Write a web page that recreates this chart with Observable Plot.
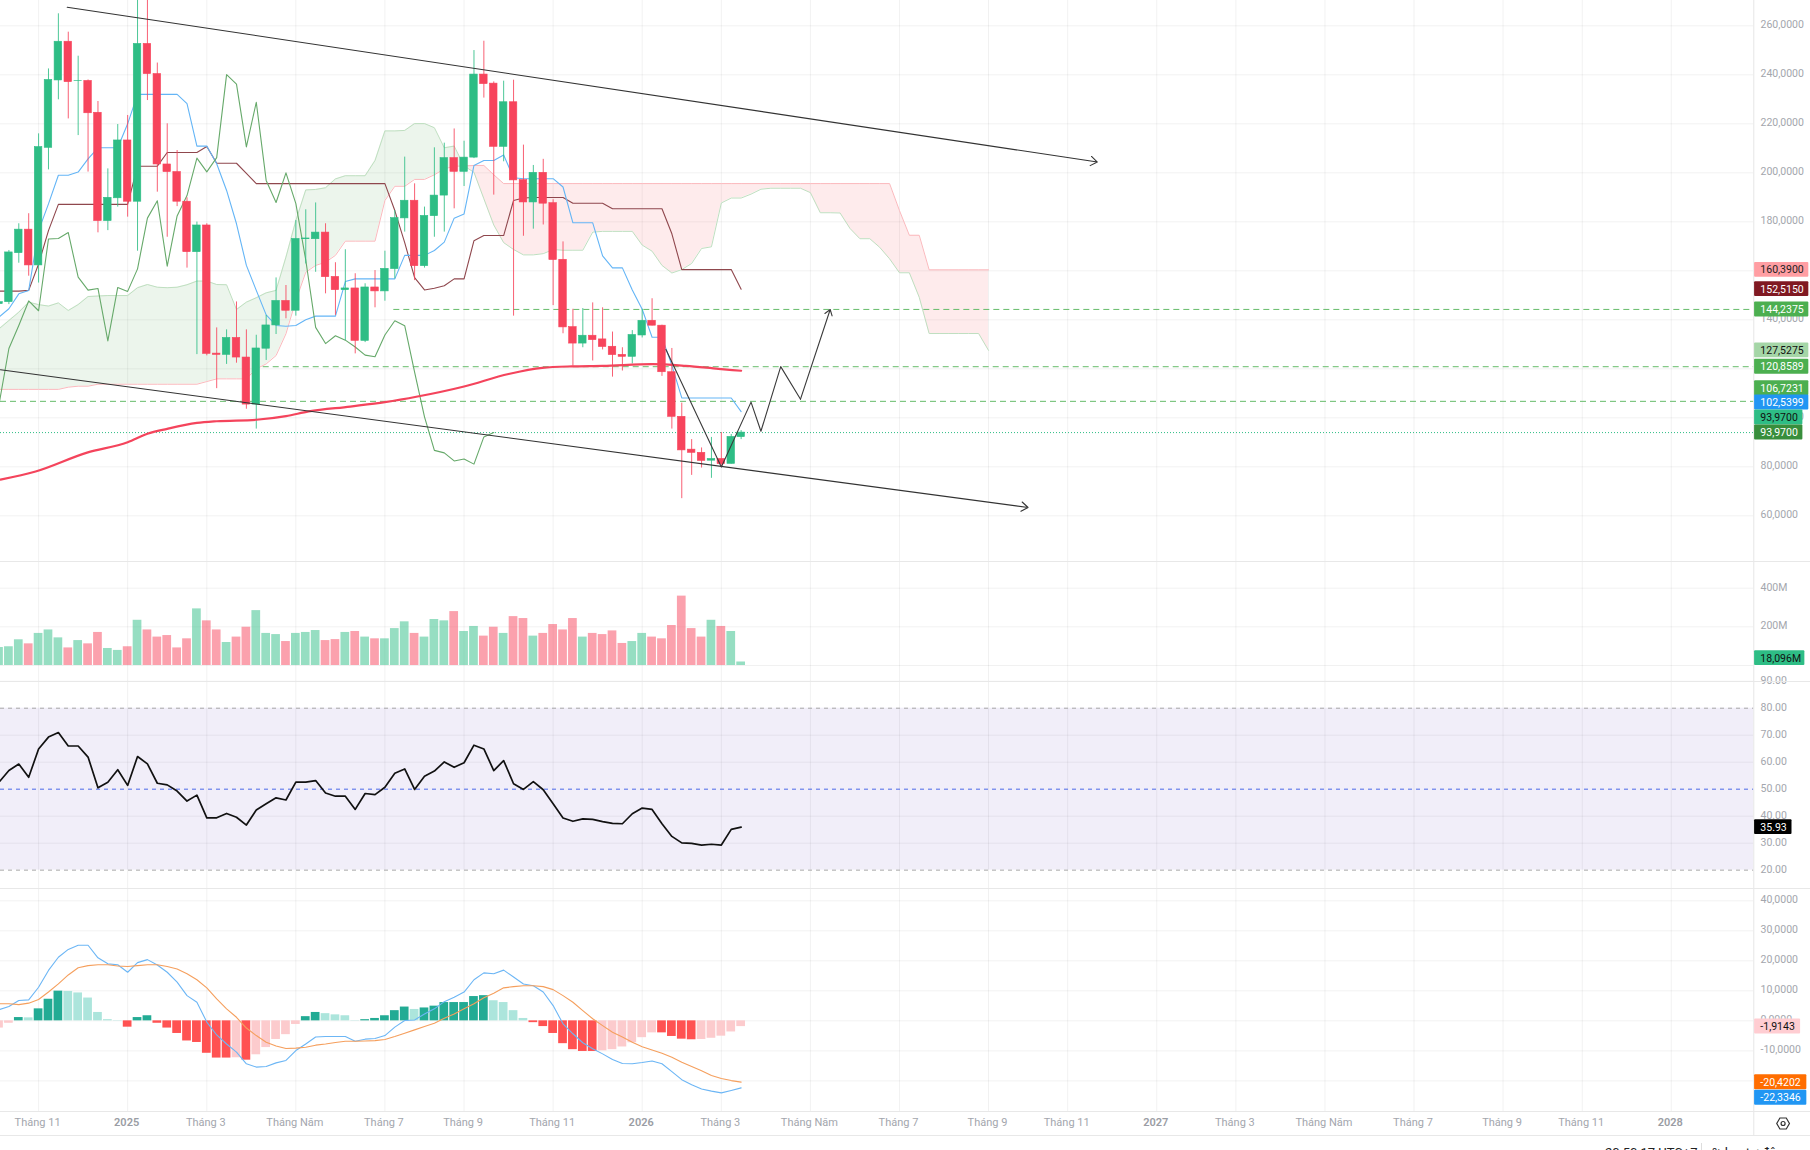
<!DOCTYPE html>
<html lang="vi">
<head>
<meta charset="utf-8">
<script src="https://cdn.jsdelivr.net/npm/d3@7"></script>
<script src="https://cdn.jsdelivr.net/npm/@observablehq/plot@0.6"></script>
<style>
html,body{margin:0;padding:0;background:#fff}
#chart{position:relative;width:1810px;height:1150px;overflow:hidden;background:#fff;font-family:Roboto,sans-serif}
#chart svg{position:absolute;left:0;background:transparent;overflow:visible}
.sep{position:absolute;left:0;width:1810px;height:1px;background:#e8e8e8}
.status{position:absolute;top:1145px;font-size:13px;line-height:16px;color:#222;white-space:nowrap}
.statusbar{position:absolute;left:1701px;top:1143px;width:1px;height:7px;background:#ddd}
</style>
</head>
<body>
<div id="chart"></div>
<script>
// weekly candles, week 0 = 14 Oct 2024 (prices in thousands)
const weeks = [-1,0,1,2,3,4,5,6,7,8,9,10,11,12,13,14,15,16,17,18,19,20,21,22,23,24,25,26,27,28,29,30,31,32,33,34,35,36,37,38,39,40,41,42,43,44,45,46,47,48,49,50,51,52,53,54,55,56,57,58,59,60,61,62,63,64,65,66,67,68,69,70,71,72,73,74];
const opens = [146.4,147.2,167.2,176.8,162.2,210.2,237.7,253.5,237.4,237.5,
224.5,180.3,189.6,213.2,188.2,252.6,240.3,203.4,200.3,188.2,
167.6,178.5,126.2,125.7,132.6,124.6,105.4,128.2,137.7,147.7,
143.7,172.9,172.9,175.6,157.5,152.1,152.8,131.4,153.2,151.6,
160.7,181.4,188.6,161.9,182.3,190.7,206.0,200.4,206.2,240.1,
236.4,210.6,228.8,197.0,187.9,200.0,187.6,164.5,137.0,130.3,
133.5,132.0,129.0,125.7,124.9,133.6,139.6,137.6,118.6,100.4,
87.0,85.7,82.5,83.2,81.2,92.1];
const highs = [150.0,168.3,179.2,183.3,215.9,242.4,264.9,257.4,247.6,237.9,
229.1,201.6,219.7,223.4,285,280,244.8,220.0,209.1,189.8,
179.9,179.2,136.7,135.9,147.3,135.9,133.7,141.8,157.1,154.0,
180.5,184.9,187.7,179.2,163.3,168.6,158.8,154.7,160.1,168.0,
184.6,206.4,195.5,186.0,210.2,212.1,217.9,212.9,249.9,253.7,
237.1,237.4,237.8,211.3,203.0,205.5,189.0,171.8,144.3,144.6,
146.9,144.9,135.0,128.6,135.6,144.3,148.6,137.8,128.3,106.0,
91.1,87.7,92.0,94.0,93.2,94.8];
const lows = [146.0,146.2,163.1,157.8,155.0,201.2,229.8,222.0,215.2,200.3,
175.5,176.4,186.0,181.9,168.0,229.5,192.1,173.7,186.2,161.1,
125.8,125.3,111.9,121.8,122.3,103.5,95.4,123.4,134.0,140.4,
141.5,162.8,159.4,150.6,141.8,131.5,126.1,130.7,144.9,147.6,
156.7,175.8,156.0,161.1,173.7,175.8,185.3,194.4,205.8,230.5,
190.9,204.5,141.5,174.1,177.0,178.7,145.8,134.3,121.1,128.6,
123.2,127.7,116.6,119.1,122.0,132.6,137.5,116.9,95.4,67.0,
76.5,79.5,75.3,79.9,81.1,91.1];
const closes = [147.2,167.5,176.8,162.2,210.5,237.9,253.5,237.0,237.5,224.3,
180.3,189.8,213.2,188.2,252.6,240.3,203.4,200.3,188.2,167.6,
178.5,126.1,125.7,132.6,124.6,105.4,128.3,137.7,147.7,143.7,
173.0,173.2,175.6,157.4,152.1,152.8,131.4,153.2,151.6,160.8,
181.5,188.6,161.9,182.4,190.7,206.0,200.4,206.2,240.1,236.2,
210.6,228.8,196.9,187.9,200.0,187.4,164.4,136.9,130.3,133.5,
131.7,128.9,125.6,124.9,133.8,139.6,137.6,118.6,100.4,86.7,
85.7,82.4,83.2,81.1,92.2,93.97];
const tenkan = [141.1,144.5,150.6,152.0,176.4,187.3,199.0,199.0,200.3,205.7,
210.2,210.2,210.2,220.0,232.0,232.0,232.0,232.0,232.0,228.2,
210.9,210.9,203.7,192.8,179.2,162.2,152.0,142.0,137.7,137.4,
137.7,140.0,141.5,141.5,141.5,155.6,156.7,156.7,156.7,156.7,
156.7,166.3,166.3,166.3,168.3,171.7,181.5,183.2,203.0,205.0,
205.0,207.3,198.0,197.6,197.6,197.6,197.6,194.2,179.6,179.6,
179.6,166.1,161.2,161.2,152.2,144.3,132.9,132.9,121.4,108.1,
108.1,108.1,108.1,108.1,108.1,102.5399];
const kijun = [151.7,151.7,151.7,152.0,162.8,176.4,187.1,187.1,187.1,187.1,
187.1,187.1,187.1,187.1,202.7,202.7,202.7,208.3,208.3,208.3,
208.3,210.7,203.9,203.9,203.9,199.8,195.6,195.6,195.6,195.6,
195.6,195.6,195.6,195.6,195.6,195.6,195.6,195.6,195.6,195.6,
184.6,171.5,157.2,152.2,152.9,153.9,156.7,156.7,172.3,174.4,
174.4,174.4,188.7,189.7,189.9,189.9,189.9,189.9,187.6,187.6,
187.6,187.6,185.3,185.3,185.3,185.3,185.3,185.3,175.1,160.5,
160.5,160.5,160.5,160.5,160.5,152.515];
// leading spans, plotted 25 weeks ahead (weeks -1 to 99)
const spanWeeks = [-1,0,1,2,3,4,5,6,7,8,9,10,11,12,13,14,15,16,17,18,19,20,21,22,23,24,25,26,27,28,29,30,31,32,33,34,35,36,37,38,39,40,41,42,43,44,45,46,47,48,49,50,51,52,53,54,55,56,57,58,59,60,61,62,63,64,65,66,67,68,69,70,71,72,73,74,75,76,77,78,79,80,81,82,83,84,85,86,87,88,89,90,91,92,93,94,95,96,97,98,99];
const spanA = [136.3,139.7,143.1,147.2,146.2,145.6,146.9,143.8,146.2,149.5,
149.7,149.9,149.9,149.9,153.1,154.4,153.3,153.1,153.3,154.3,
155.8,155.8,154.4,154.3,144.2,147.2,149.0,151.0,152.0,165.6,
180.5,193.0,193.2,193.9,197.5,198.8,198.8,198.8,205.0,217.1,
217.1,217.3,220.1,220.1,218.4,210.2,210.9,202.8,200.2,189.4,
178.7,171.5,168.7,166.5,166.5,167.0,168.7,168.4,168.4,168.4,
175.8,176.1,176.1,176.1,176.1,170.5,168.0,162.2,159.1,160.5,
163.0,169.1,169.8,187.7,189.7,189.7,191.3,193.3,193.7,193.7,
193.7,193.7,191.9,183.7,183.7,183.6,177.3,173.1,173.1,169.6,
164.9,159.2,159.2,149.2,134.4,134.4,134.4,134.4,134.4,134.4,
127.5275];
const spanB = [111.6,111.6,111.6,111.6,111.6,111.6,111.6,112.5,112.9,112.9,
113.7,113.7,113.7,113.7,113.7,113.7,113.7,113.7,113.7,113.7,
113.7,114.8,115.9,115.9,115.9,115.9,120.0,122.0,125.4,134.3,
147.9,159.4,162.2,163.5,166.3,172.1,172.1,172.1,172.1,188.7,
194.5,194.5,197.3,197.3,199.2,201.6,202.7,202.8,203.0,203.0,
199.2,195.6,195.6,195.6,195.6,195.6,195.6,195.6,195.6,195.6,
195.6,195.6,195.6,195.6,195.6,195.6,195.6,195.6,195.6,195.6,
195.6,195.6,195.6,195.6,195.6,195.6,195.6,195.6,195.6,195.6,
195.6,195.6,195.6,195.6,195.6,195.6,195.6,195.6,195.6,195.6,
195.6,184.6,174.5,174.5,160.39,160.39,160.39,160.39,160.39,160.39,
160.39];
const maWeeks = [-0.85,2.7,7.9,12,14,16,19,21,25,28,30.3,34.5,38,41.3,46,50.5,53.9,56.9,60,65,68.4,71.7,74];
const maValues = [74.8,78.1,85.8,90.0,93.5,95.5,97.9,98.6,99.2,100.7,102.6,104.6,106.4,108.7,112.8,117.9,120.4,121.0,121.2,121.9,121.2,120.0,119.2];
const volumes = [93,97,133,112,166,184,143,91,129,112,
171,88,78,97,234,184,147,155,91,138,
293,231,184,119,147,198,284,166,160,124,
166,171,181,129,134,171,176,147,138,138,
191,226,166,147,238,231,279,176,202,152,
198,166,253,243,152,166,212,184,243,147,
166,160,179,114,124,166,147,138,207,359,
191,147,234,202,176,18.096];
const rsi = [52.6,56.9,59.3,54.4,64.9,69.3,71.0,66.0,66.0,61.9,
50.5,52.6,57.2,51.4,62.1,59.4,52.2,51.6,49.3,45.6,
47.8,39.4,39.4,41.0,39.6,36.7,42.3,44.6,46.8,46.0,
52.6,52.6,53.2,48.6,47.4,47.4,42.5,48.4,48.0,50.7,
55.9,57.5,49.9,54.8,56.7,60.1,58.1,59.8,66.3,64.9,
56.9,60.6,52.0,49.9,52.8,49.8,44.6,39.3,38.1,39.0,
38.8,38.0,37.3,37.2,40.9,43.0,42.5,37.2,32.5,30.1,
29.9,29.3,29.6,29.3,35.1,35.93];
const hist = [-2.4,-0.8,1.1,1.0,4.0,7.2,9.9,9.8,9.3,7.6,
2.8,0.4,0.1,-2.1,1.1,1.7,-0.8,-2.4,-4.2,-6.7,
-7.2,-10.8,-12.4,-12.4,-12.3,-13.1,-11.3,-8.9,-6.2,-4.6,
-1.2,1.4,2.8,2.4,2.0,1.7,0.1,0.4,0.8,1.7,
3.4,4.6,3.8,4.3,4.9,6.1,6.1,6.1,8.1,8.4,
6.7,6.1,3.4,0.8,-0.6,-1.9,-4.2,-7.6,-9.6,-10.2,
-10.2,-10.0,-9.6,-8.7,-7.3,-5.6,-4.0,-4.0,-5.2,-6.1,
-6.3,-6.2,-5.8,-5.1,-3.7,-1.9143];
const macd = [3.7,4.8,6.8,7.0,11.2,16.8,21.2,23.8,25.2,25.2,
21.0,19.0,18.7,16.2,19.4,20.4,18.6,16.2,12.9,8.4,
6.2,-0.4,-4.7,-7.7,-10.4,-14.3,-15.4,-15.2,-14.0,-13.2,
-9.9,-7.7,-5.4,-5.2,-5.2,-5.2,-6.8,-6.1,-5.9,-4.9,
-2.1,0.1,0.3,2.3,4.0,6.4,7.9,9.6,13.7,16.0,
15.7,16.9,14.6,12.3,11.7,9.6,5.1,-1.0,-4.3,-7.3,
-9.3,-11.0,-12.9,-14.2,-14.3,-13.9,-13.4,-14.3,-16.9,-19.6,
-21.3,-22.7,-23.4,-24.0,-23.2,-22.3346];
const signal = [5.7,5.7,5.4,5.9,7.1,9.6,12.3,15.3,17.7,18.4,
18.7,18.7,18.3,18.1,18.4,18.7,18.7,18.1,17.3,15.7,
13.7,11.0,7.3,4.0,1.2,-2.4,-4.9,-7.1,-8.4,-9.2,
-9.1,-8.8,-8.1,-7.7,-7.2,-6.8,-6.8,-6.7,-6.6,-6.2,
-5.2,-4.1,-3.0,-1.9,-0.8,0.9,2.3,4.0,5.7,7.7,
9.2,11.0,11.4,11.7,11.7,11.4,10.4,8.4,6.2,3.4,
0.7,-1.6,-3.8,-5.4,-7.1,-8.6,-9.7,-10.8,-12.1,-13.8,
-15.2,-16.6,-18.2,-19.2,-19.9,-20.4202];
// hand-drawn lines
const channelX1 = [5.89,-0.85], channelY1 = [267.6,119.6], channelX2 = [110,103], channelY2 = [204.4,63.4];
const pathWeeks = [66.4,72,75,76,78,80,83], pathPrices = [127.9,79.9,106.4,94.5,120.9,107.6,144.2];
// axis ticks
const monthWeeks = [3,20,29,38,46,55,72,81,90,99,107,124,133,142,151,159];
const monthLabels = ["Tháng 11","Tháng 3","Tháng Năm","Tháng 7","Tháng 9","Tháng 11","Tháng 3","Tháng Năm","Tháng 7","Tháng 9","Tháng 11","Tháng 3","Tháng Năm","Tháng 7","Tháng 9","Tháng 11"];
const yearWeeks = [12,64,116,168];
const yearLabels = ["2025","2026","2027","2028"];
const priceTicks = [60,80,100,120,140,160,180,200,220,240,260];
const volumeGrid = [0,200,400], volumeTicks = [200,400];
const rsiTicks = [20,30,40,50,60,70,80,90];
const macdTicks = [-20,-10,0,10,20,30,40];

// price-scale badges: label, position on the scale, fill, ink, right end
const priceBadges = {label:["160,3900","152,5150","144,2375","127,5275","120,8589","106,7231","102,5399","93,9700","93,9700"],
  pos:[160.39,152.515,144.2375,127.5275,120.8589,112.08,106.24,100.1,93.97],
  fill:["#ff9ea3","#801922","#4caf50","#a5d6a7","#4caf50","#4caf50","#2196f3","#2ebd85","#388e3c"],
  ink:["#222","#fff","#fff","#111","#fff","#fff","#fff","#111","#fff"],
  end:[181.9,181.9,181.9,181.9,181.9,181.9,181.9,181.3,181.3]};
const volumeBadges = {label:["18,096M"],pos:[37.8],fill:["#2ebd85"],ink:["#111"],end:[181.5]};
const rsiBadges = {label:["35.93"],pos:[35.93],fill:["#000"],ink:["#fff"],end:[180.2]};
const macdBadges = {label:["-1,9143","-20,4202","-22,3346"],pos:[-1.9143,-20.4202,-25.6],fill:["#ffcdd2","#ff6d00","#2196f3"],ink:["#111","#fff","#fff"],end:[181.07,181.7,181.7]};

const UP = "#2ebd85", DOWN = "#f7445c";
const xMin = -0.849, xMax = 182.07, xAxis = 176.34, textX = 177.0;
const GRID = "rgba(0,0,0,0.055)";
const isUp = i => closes[i] >= opens[i];
const chart = document.getElementById("chart");

function badge(b, halfHeight) {
  const idx = b.label.map((_, i) => i);
  return [
    Plot.rect(idx, {x1: xAxis + 0.08, x2: i => b.end[i], y1: i => b.pos[i] - halfHeight, y2: i => b.pos[i] + halfHeight, fill: i => b.fill[i], rx: 1}),
    Plot.text(idx, {x: textX, y: i => b.pos[i], text: i => b.label[i], fill: i => b.ink[i], textAnchor: "start"})
  ];
}
function axisRight(ticks, fmt, dy) {
  return Plot.axisY(ticks, {anchor: "right", tickSize: 0, tickPadding: 0, dx: -50, dy, textAnchor: "start", tickFormat: fmt, label: null, color: "#a3a6ad"});
}
function gridY(ticks) { return Plot.ruleY(ticks, {x1: xMin, x2: xAxis, stroke: GRID}); }
const gridX = () => Plot.ruleX([...monthWeeks, ...yearWeeks], {stroke: GRID});
const axisLine = () => Plot.ruleX([xAxis], {stroke: "#e6e6e6"});

function pane(top, height, yDomain, marks) {
  const svg = Plot.plot({
    width: 1810, height, margin: 0,
    x: {type: "linear", domain: [xMin, xMax], range: [0, 1810], axis: null},
    y: {type: "linear", domain: yDomain, range: [0, height], axis: null},
    color: {type: "identity"},
    style: {fontFamily: "Roboto, sans-serif", fontSize: "10.5px", background: "transparent", overflow: "visible"},
    marks
  });
  svg.style.top = top + "px";
  chart.appendChild(svg);
}
function sep(y) { const d = document.createElement("div"); d.className = "sep"; d.style.top = y + "px"; chart.appendChild(d); }

const idx = weeks.map((_, i) => i);
const green = spanWeeks.map((_, i) => i).filter(i => spanWeeks[i] <= 46);
const red = spanWeeks.map((_, i) => i).filter(i => spanWeeks[i] >= 46);
const spanLine = (arr, color) => Plot.line(spanWeeks.map((_, i) => i), {x: i => spanWeeks[i], y: i => arr[i], stroke: color, strokeWidth: 1});
const seriesLine = (arr, color, w) => Plot.line(idx, {x: i => weeks[i], y: i => arr[i], stroke: color, strokeWidth: w, strokeLinejoin: "round"});

// price pane
pane(0, 561, [270.33, 41.35], [
  gridY(priceTicks), gridX(),
  Plot.areaY(green, {x: i => spanWeeks[i], y1: i => spanA[i], y2: i => spanB[i], fill: "#43a047", fillOpacity: 0.1}),
  Plot.areaY(red, {x: i => spanWeeks[i], y1: i => spanA[i], y2: i => spanB[i], fill: "#f23645", fillOpacity: 0.1}),
  spanLine(spanA, "#bfdfc0"), spanLine(spanB, "#fbb9bd"),
  Plot.ruleY([106.7231], {x1: xMin, x2: xAxis, stroke: "#66bb6a", strokeDasharray: "6 4"}),
  Plot.ruleY([120.8589], {x1: 25.7, x2: xAxis, stroke: "#66bb6a", strokeDasharray: "6 4"}),
  Plot.ruleY([144.2375], {x1: 38.9, x2: xAxis, stroke: "#66bb6a", strokeDasharray: "6 4"}),
  Plot.ruleY([93.97], {x1: xMin, x2: xAxis, stroke: "#2ebd85", strokeDasharray: "1 2"}),
  seriesLine(kijun, "#8f474d", 1.1),
  seriesLine(tenkan, "#64b5f6", 1.1),
  Plot.line(closes.slice(25), {x: (d, j) => weeks[j], y: d => d, stroke: "#66a96a", strokeWidth: 1.1}),
  Plot.ruleX(idx, {x: i => weeks[i], y1: i => lows[i], y2: i => highs[i], stroke: i => isUp(i) ? UP : DOWN, strokeWidth: 1, strokeOpacity: 0.85}),
  Plot.rect(idx, {x1: i => weeks[i] - 0.38, x2: i => weeks[i] + 0.38, y1: i => opens[i], y2: i => closes[i], fill: i => isUp(i) ? UP : DOWN, stroke: i => isUp(i) ? UP : DOWN, strokeWidth: 0.6}),
  Plot.line(maWeeks.map((_, i) => i), {x: i => maWeeks[i], y: i => maValues[i], stroke: "#f4445c", strokeWidth: 2.2, curve: "monotone-x"}),
  Plot.arrow([0, 1], {x1: i => channelX1[i], y1: i => channelY1[i], x2: i => channelX2[i], y2: i => channelY2[i], stroke: "#333", strokeWidth: 1.1, headLength: 11, headAngle: 70}),
  Plot.line(pathWeeks.slice(0, 6).map((_, i) => i), {x: i => pathWeeks[i], y: i => pathPrices[i], stroke: "#3a3a3a", strokeWidth: 1.1}),
  Plot.arrow([5], {x1: i => pathWeeks[i], y1: i => pathPrices[i], x2: i => pathWeeks[i + 1], y2: i => pathPrices[i + 1], stroke: "#3a3a3a", strokeWidth: 1.1, headLength: 9, headAngle: 70}),
  axisLine(),
  axisRight(priceTicks, d => d + ",0000", -1.5),
  ...badge(priceBadges, 3.05)
]);

// volume pane
pane(561, 120, [538.2, -82.8], [
  gridY(volumeGrid), gridX(),
  Plot.rect(idx, {x1: i => weeks[i] - 0.44, x2: i => weeks[i] + 0.44, y1: 0, y2: i => volumes[i], fill: i => isUp(i) ? UP : DOWN, fillOpacity: 0.5}),
  axisLine(),
  axisRight(volumeTicks, d => d + "M", -1),
  ...badge(volumeBadges, 38)
]);

// RSI pane
pane(681, 207, [89.9, 13.2], [
  Plot.rect([0], {x1: xMin, x2: xAxis, y1: 20, y2: 80, fill: "#6f4fc2", fillOpacity: 0.095}),
  gridY(rsiTicks.filter(d => d !== 80 && d !== 20 && d !== 50)), gridX(),
  Plot.ruleY([80, 20], {x1: xMin, x2: xAxis, stroke: "#a8a8a8", strokeDasharray: "4 4"}),
  Plot.ruleY([50], {x1: xMin, x2: xAxis, stroke: "#4a68e8", strokeDasharray: "4 4"}),
  seriesLine(rsi, "#111", 1.7),
  axisLine(),
  axisRight(rsiTicks, d => d.toFixed(2), -0.7),
  ...badge(rsiBadges, 2.75)
]);

// MACD pane
const histColor = i => {
  const prev = i > 0 ? hist[i - 1] : hist[i] - 1, v = hist[i];
  return v >= 0 ? (v >= prev ? "#22ab94" : "#ace5dc") : (v <= prev ? "#ff5252" : "#fccbcd");
};
pane(888, 223, [44.1, -30.2], [
  gridY(macdTicks), gridX(),
  Plot.rect(idx, {x1: i => weeks[i] - 0.44, x2: i => weeks[i] + 0.44, y1: 0, y2: i => hist[i], fill: histColor}),
  seriesLine(macd, "#6cb6f5", 1.1),
  seriesLine(signal, "#f59f5d", 1.1),
  axisLine(),
  axisRight(macdTicks, d => d + ",0000", -1),
  ...badge(macdBadges, 2.5)
]);

// time axis strip
pane(1111, 24, [1, 0], [
  axisLine(),
  Plot.axisX(monthWeeks, {anchor: "bottom", tickSize: 0, tickPadding: 0, dx: -1, dy: -13, lineAnchor: "middle", label: null, color: "#a3a6ad", fontSize: 11, tickFormat: d => monthLabels[monthWeeks.indexOf(d)]}),
  Plot.axisX(yearWeeks, {anchor: "bottom", tickSize: 0, tickPadding: 0, dx: -1, dy: -13, lineAnchor: "middle", label: null, color: "#9a9da4", fontSize: 11, fontWeight: 600, tickFormat: d => yearLabels[yearWeeks.indexOf(d)]}),
  Plot.dot([179.3], {x: d => d, y: 0.5, symbol: "hexagon", r: 5.5, rotate: 30, stroke: "#333", strokeWidth: 1.2, fill: "none"}),
  Plot.dot([179.3], {x: d => d, y: 0.5, r: 2, stroke: "#333", strokeWidth: 1.2, fill: "none"})
]);

[561, 681, 888, 1111, 1135].forEach(sep);
const st1 = document.createElement("div"); st1.className = "status"; st1.style.left = "1605px"; st1.textContent = "20:50:17 UTC+7"; chart.appendChild(st1);
const st2 = document.createElement("div"); st2.className = "status"; st2.style.left = "1712px"; st2.textContent = "% log tự động"; chart.appendChild(st2);
const st3 = document.createElement("div"); st3.className = "statusbar"; chart.appendChild(st3);
</script>
</body>
</html>
